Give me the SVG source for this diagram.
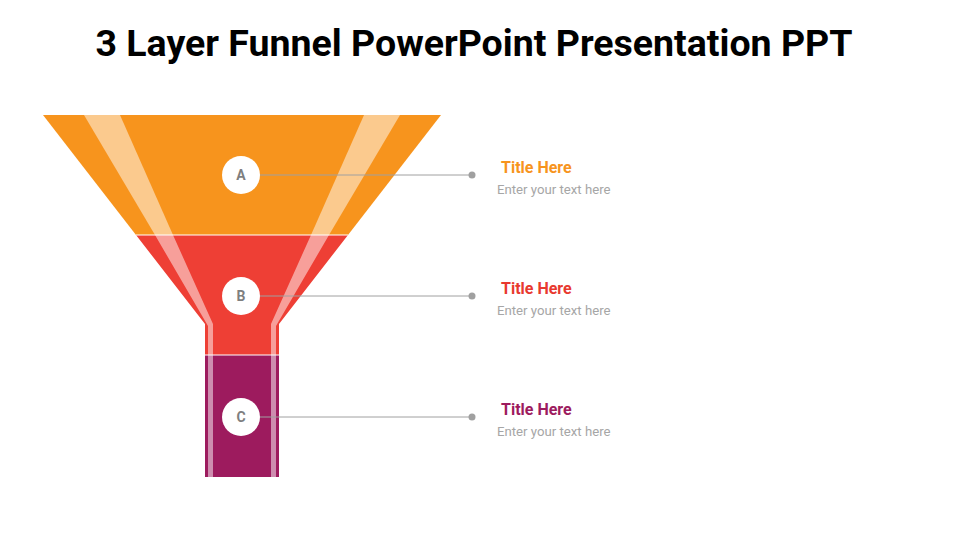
<svg xmlns="http://www.w3.org/2000/svg" width="960" height="540" viewBox="0 0 960 540">
<style>
.title{font-family:Roboto,"Liberation Sans",sans-serif;font-weight:700;font-size:37.5px;fill:#000}
.lbl{font-family:Roboto,"Liberation Sans",sans-serif;font-weight:700;font-size:14px;fill:#7f7f7f;text-anchor:middle}
.h{font-family:Roboto,"Liberation Sans",sans-serif;font-weight:700;font-size:16px}
.t{font-family:Roboto,"Liberation Sans",sans-serif;font-size:13.2px;fill:#a6a6a6}
.stripe{fill:#fff;fill-opacity:0.5}
.sep{stroke:#fff;stroke-width:1.2}
.conn{stroke:#a0a0a0;stroke-width:1;fill:none}
.dot{fill:#a0a0a0}
.circ{fill:#fff}
</style>
<rect width="960" height="540" fill="#fff"/>
<text class="title" x="474" y="56" text-anchor="middle">3 Layer Funnel PowerPoint Presentation PPT</text>

<g id="layer-a">
<polygon points="43,115 441,115 348,235 136,235" fill="#F7941D"/>
<polygon class="stripe" points="84,115 120,115 173,235 155,235"/>
<polygon class="stripe" points="364,115 400,115 329,235 311,235"/>
<circle class="circ" cx="241" cy="175" r="19"/>
<text class="lbl" x="241" y="180">A</text>
<text class="h" x="501" y="173" fill="#F7941D">Title Here</text>
<text class="t" x="497" y="194">Enter your text here</text>
</g>

<g id="layer-b">
<polygon points="136,235 348,235 279,324 279,355 205,355 205,324" fill="#EE3F35"/>
<polygon class="stripe" points="155,235 173,235 213,324 213,355 208,355 208,326"/>
<polygon class="stripe" points="311,235 329,235 276,326 276,355 271,355 271,324"/>
<circle class="circ" cx="241" cy="296" r="19"/>
<text class="lbl" x="241" y="301">B</text>
<text class="h" x="501" y="294" fill="#E8392F">Title Here</text>
<text class="t" x="497" y="315">Enter your text here</text>
</g>

<g id="layer-c">
<rect x="205" y="355" width="74" height="122" fill="#9D1B5E"/>
<rect class="stripe" x="208" y="355" width="5" height="122"/>
<rect class="stripe" x="271" y="355" width="5" height="122"/>
<circle class="circ" cx="241" cy="417" r="19"/>
<text class="lbl" x="241" y="422">C</text>
<text class="h" x="501" y="415" fill="#9D1B5E">Title Here</text>
<text class="t" x="497" y="436">Enter your text here</text>
</g>

<g id="separators">
<line class="sep" x1="136" y1="235" x2="348" y2="235"/>
<line class="sep" x1="205" y1="355" x2="279" y2="355"/>
</g>

<g id="connectors">
<line class="conn" x1="260" y1="175" x2="472" y2="175"/>
<circle class="dot" cx="472" cy="175" r="3.5"/>
<line class="conn" x1="260" y1="296" x2="472" y2="296"/>
<circle class="dot" cx="472" cy="296" r="3.5"/>
<line class="conn" x1="260" y1="417" x2="472" y2="417"/>
<circle class="dot" cx="472" cy="417" r="3.5"/>
</g>
</svg>
